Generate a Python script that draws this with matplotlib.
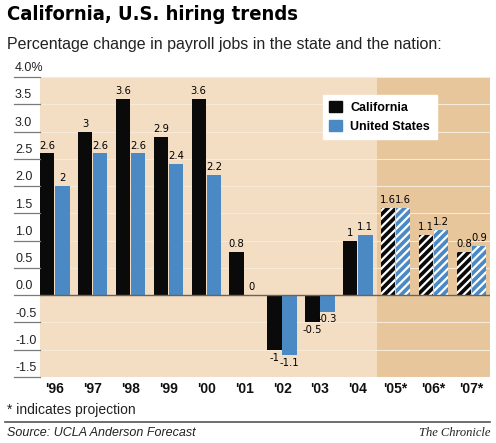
import matplotlib
matplotlib.use("Agg")
import matplotlib.pyplot as plt
import matplotlib.transforms as mtransforms
from matplotlib.patches import Rectangle
import numpy as np

years = ["'96", "'97", "'98", "'99", "'00", "'01", "'02", "'03", "'04", "'05*", "'06*", "'07*"]
california = [2.6, 3, 3.6, 2.9, 3.6, 0.8, -1, -0.5, 1, 1.6, 1.1, 0.8]
united_states = [2, 2.6, 2.6, 2.4, 2.2, 0, -1.1, -0.3, 1.1, 1.6, 1.2, 0.9]
projected = [False] * 9 + [True] * 3
ca_labels = ["2.6", "3", "3.6", "2.9", "3.6", "0.8", "-1", "-0.5", "1", "1.6", "1.1", "0.8"]
us_labels = ["2", "2.6", "2.6", "2.4", "2.2", "0", "-1.1", "-0.3", "1.1", "1.6", "1.2", "0.9"]
yticks = [4.0, 3.5, 3.0, 2.5, 2.0, 1.5, 1.0, 0.5, 0.0, -0.5, -1.0, -1.5]
ytick_labels = ["4.0%", "3.5", "3.0", "2.5", "2.0", "1.5", "1.0", "0.5", "0.0", "-0.5", "-1.0", "-1.5"]

BLACK = "#0a0a0a"
BLUE = "#4a89c4"
PANEL = "#f3ddc3"
PROJ = "#e8c69b"
GRID = "#f8ead8"

plt.rcParams['hatch.linewidth'] = 1.6
W, H = 496, 443
fig = plt.figure(figsize=(W / 100, H / 100), dpi=100)
fig.patch.set_facecolor("white")

ax = fig.add_axes([40 / W, (H - 377) / H, 450 / W, 300 / H])
ax.set_facecolor(PANEL)
for s in ax.spines.values():
    s.set_visible(False)

n = len(years)
x = np.arange(n)
bw = 0.38
gap = 0.02
ax.set_xlim(-bw - gap / 2, n - 1 + 0.49)
ax.set_ylim(-1.5, 4.0)

ax.axvspan(8.5, n - 1 + 0.49, color=PROJ, zorder=0, lw=0)
for yv in yticks:
    ax.axhline(yv, color=GRID, lw=0.8, zorder=0.5)
ax.axhline(0, color="#6e6252", lw=1.0, zorder=3)

fs_cond = ['DejaVu Sans']
for i in range(n):
    xc = x[i] - (bw + gap) / 2
    xu = x[i] + (bw + gap) / 2
    if projected[i]:
        ax.bar(xc, california[i], bw, color=BLACK, edgecolor="white", linewidth=0, hatch="////", zorder=2)
        ax.bar(xu, united_states[i], bw, color=BLUE, edgecolor="white", linewidth=0, hatch="////", zorder=2)
    else:
        ax.bar(xc, california[i], bw, color=BLACK, linewidth=0, zorder=2)
        ax.bar(xu, united_states[i], bw, color=BLUE, linewidth=0, zorder=2)
    for xp, v, lab in ((xc, california[i], ca_labels[i]), (xu, united_states[i], us_labels[i])):
        if v >= 0:
            ax.annotate(lab, (xp, v), xytext=(0, 2), textcoords="offset points",
                        ha="center", va="bottom", fontsize=8, family=fs_cond, stretch='condensed', zorder=4)
        else:
            ax.annotate(lab, (xp, v), xytext=(0, -2), textcoords="offset points",
                        ha="center", va="top", fontsize=8, family=fs_cond, stretch='condensed', zorder=4)

ax.set_xticks([])
ax.set_yticks([])

trans = mtransforms.blended_transform_factory(ax.transAxes, ax.transData)
for yv, lab in zip(yticks, ytick_labels):
    ax.plot([-26 / 450, 0], [yv, yv], transform=trans, color="#7a7a7a", lw=0.9, clip_on=False)
    ax.annotate(lab, (-25 / 450, yv), xycoords=trans, xytext=(0, 2), textcoords="offset points",
                ha="left", va="bottom", fontsize=9, family=['Liberation Sans', 'DejaVu Sans'],
                color="#222222", annotation_clip=False)

transx = mtransforms.blended_transform_factory(ax.transData, fig.transFigure)
for i in range(n):
    ax.text(x[i], 1 - 389 / H, years[i], transform=transx, ha="center", va="center",
            fontsize=10, fontweight="bold", family=['Liberation Sans', 'DejaVu Sans'], color="#111111")

ax.legend(handles=[Rectangle((0, 0), 1, 1, color=BLACK), Rectangle((0, 0), 1, 1, color=BLUE)],
          labels=["California", "United States"],
          loc="upper left", bbox_to_anchor=((323 - 40) / 450, (377 - 95) / 300),
          frameon=True, fancybox=False, framealpha=1, edgecolor="white",
          prop={'family': ['Liberation Sans', 'DejaVu Sans'], 'weight': 'bold', 'size': 9},
          handlelength=1.0, handleheight=1.0, handletextpad=0.7, borderpad=0.5, labelspacing=0.45,
          borderaxespad=0)

fig.text(7 / W, 1 - 14 / H, "California, U.S. hiring trends", ha="left", va="center",
         fontsize=14.5, fontweight="bold", family=['DejaVu Sans'], stretch='condensed', color="black")
fig.text(7 / W, 1 - 44 / H, "Percentage change in payroll jobs in the state and the nation:", ha="left",
         va="center", fontsize=11.5, family=['Liberation Sans', 'DejaVu Sans'], color="#222222")
fig.text(7 / W, 1 - 410 / H, "* indicates projection", ha="left", va="center",
         fontsize=10, family=['Liberation Sans', 'DejaVu Sans'], color="#222222")
fig.add_artist(plt.Line2D([5 / W, 490 / W], [1 - 422 / H, 1 - 422 / H], color="#555555", lw=1.2))
fig.text(7 / W, 1 - 433 / H, "Source: UCLA Anderson Forecast", ha="left", va="center",
         fontsize=9, style="italic", family=['Liberation Sans', 'DejaVu Sans'], color="#222222")
fig.text(490 / W, 1 - 433 / H, "The Chronicle", ha="right", va="center",
         fontsize=9, style="italic", family=['Liberation Serif', 'DejaVu Serif'], color="#222222")

fig.savefig("out.png", dpi=100, facecolor="white")
